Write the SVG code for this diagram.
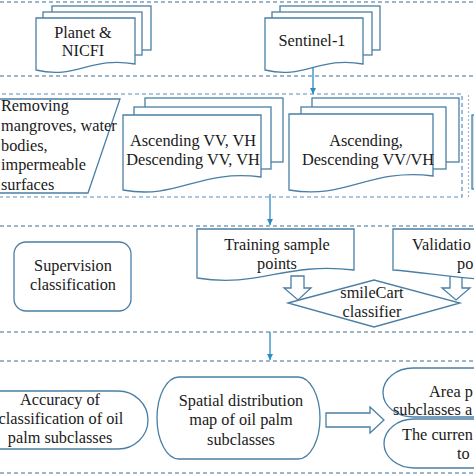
<svg xmlns="http://www.w3.org/2000/svg" width="474" height="474" viewBox="0 0 474 474">
<style>
.sh{fill:#fff;stroke:#4a7fa5;stroke-width:1.3}
.dash{fill:none;stroke:#7d9db7;stroke-width:1.3;stroke-dasharray:4 3}
.dash2{fill:none;stroke:#5b8db8;stroke-width:1.2;stroke-dasharray:4 3}
.dot{fill:none;stroke:#a7b6c2;stroke-width:1.2;stroke-dasharray:2 2}
.con{fill:none;stroke:#2b8cc4;stroke-width:1.3}
text{font-family:"Liberation Serif","Times New Roman",serif;font-size:16.3px;fill:#1a1a1a}
.c{text-anchor:middle}
</style>
<defs>
<marker id="ah" viewBox="0 0 10 10" refX="10" refY="5" markerWidth="6" markerHeight="6" orient="auto" markerUnits="userSpaceOnUse">
<path d="M0,0 L10,5 L0,10 Z" fill="#2b8cc4"/>
</marker>
</defs>
<rect x="0" y="0" width="474" height="474" fill="#fff"/>
<g id="frames">
<line class="dash" x1="0" y1="2" x2="474" y2="2"/>
<line class="dash" x1="0" y1="76" x2="474" y2="76"/>
<rect class="dash2" x="-5" y="94" width="467" height="103"/>
<line class="dot" x1="468.5" y1="95" x2="468.5" y2="197"/>
<line class="dash" x1="0" y1="226" x2="474" y2="226"/>
<line class="dash" x1="0" y1="332" x2="474" y2="332"/>
<line class="dash" x1="0" y1="361" x2="474" y2="361"/>
<line class="dash" x1="0" y1="473" x2="474" y2="473"/>
</g>
<g id="connectors">
<line class="con" x1="313" y1="67" x2="313" y2="94" marker-end="url(#ah)"/>
<line class="con" x1="270" y1="194" x2="270" y2="225" marker-end="url(#ah)"/>
<line class="con" x1="270" y1="332" x2="270" y2="360" marker-end="url(#ah)"/>
<polygon class="sh" points="291,276 304,276 304,288 311,288 298,300 284,288 291,288"/>
<polygon class="sh" points="450,276 462,276 462,288 470,288 456,300 442,288 450,288"/>
<polygon class="sh" points="326,413 370,413 370,407 384,420 370,433 370,427 326,427"/>
</g>
<g id="planet">
<rect class="sh" x="52" y="6" width="99" height="44"/>
<rect class="sh" x="43" y="12" width="99" height="43"/>
<path class="sh" d="M36,18 H135 V64 C90,56 76,80 36,70 Z"/>
<text class="c" x="83" y="38">Planet &amp;</text>
<text class="c" x="83" y="56">NICFI</text>
</g>
<g id="sentinel">
<rect class="sh" x="280" y="6" width="100" height="44"/>
<rect class="sh" x="272" y="12" width="100" height="43"/>
<path class="sh" d="M265,18 H363 V64 C319,56 304,80 265,70 Z"/>
<text class="c" x="312" y="46">Sentinel-1</text>
</g>
<g id="removing">
<path class="sh" d="M-30,99 H120 L88,193 H-30 Z"/>
<text x="1" y="111">Removing</text>
<text x="1" y="131" font-size="15.6">mangroves, water</text>
<text x="1" y="151">bodies,</text>
<text x="1" y="170">impermeable</text>
<text x="1" y="190">surfaces</text>
</g>
<g id="asc1">
<rect class="sh" x="145" y="98" width="138" height="64"/>
<rect class="sh" x="134" y="107" width="137" height="62"/>
<path class="sh" d="M123,115 H261 V177 C199,169 178,200 123,190 Z"/>
<text class="c" x="193" y="146">Ascending VV, VH</text>
<text class="c" x="193" y="165">Descending VV, VH</text>
</g>
<g id="asc2">
<rect class="sh" x="312" y="98" width="147" height="64"/>
<rect class="sh" x="301" y="107" width="145" height="62"/>
<path class="sh" d="M289,114 H433 V176 C368,168 347,200 289,190 Z"/>
<text class="c" x="366" y="146">Ascending,</text>
<text class="c" x="368" y="165">Descending VV/VH</text>
</g>
<g id="extra">
<rect x="472" y="115" width="20" height="74" fill="#d3e3ee" stroke="#4a7fa5" stroke-width="1.3"/>
</g>
<g id="supervision">
<rect class="sh" x="14" y="242" width="117" height="69" rx="12"/>
<text class="c" x="73" y="271">Supervision</text>
<text class="c" x="73" y="290">classification</text>
</g>
<g id="training">
<path class="sh" d="M197,229 H354 V270 C283,262 260,288 197,278 Z"/>
<text class="c" x="277" y="250">Training sample</text>
<text class="c" x="277" y="269">points</text>
</g>
<g id="validation">
<path class="sh" d="M393,229 H480 V279 C450,277 420,272 393,270 Z"/>
<text x="412" y="250">Validatio</text>
<text x="457" y="269">po</text>
</g>
<g id="classifier">
<polygon points="288,303 374,280 460,303 374,327" fill="none" stroke="#4a7fa5" stroke-width="1.3"/>
<text class="c" x="372" y="298">smileCart</text>
<text class="c" x="372" y="317">classifier</text>
</g>
<g id="accuracy">
<path class="sh" d="M-20,391 H118 A30 29 0 0 1 118,449 H-20 Z"/>
<text class="c" x="60" y="405">Accuracy of</text>
<text class="c" x="61" y="424" font-size="15.8">classification of oil</text>
<text class="c" x="60" y="443">palm subclasses</text>
</g>
<g id="spatial">
<path class="sh" d="M179,377 H298 A22 41 0 0 1 298,459 H179 A22 41 0 0 1 179,377 Z"/>
<text class="c" x="241" y="406">Spatial distribution</text>
<text class="c" x="241" y="425">map of oil palm</text>
<text class="c" x="241" y="445">subclasses</text>
</g>
<g id="area">
<path class="sh" d="M490,368 H413 A30 24.5 0 0 0 413,417 H490 Z"/>
<text x="429" y="397">Area p</text>
<text x="393" y="415">subclasses a</text>
</g>
<g id="current">
<path class="sh" d="M490,419 H414 A30 24.5 0 0 0 414,468 H490 Z"/>
<text x="402" y="440">The curren</text>
<text x="457" y="459">to</text>
</g>
</svg>
